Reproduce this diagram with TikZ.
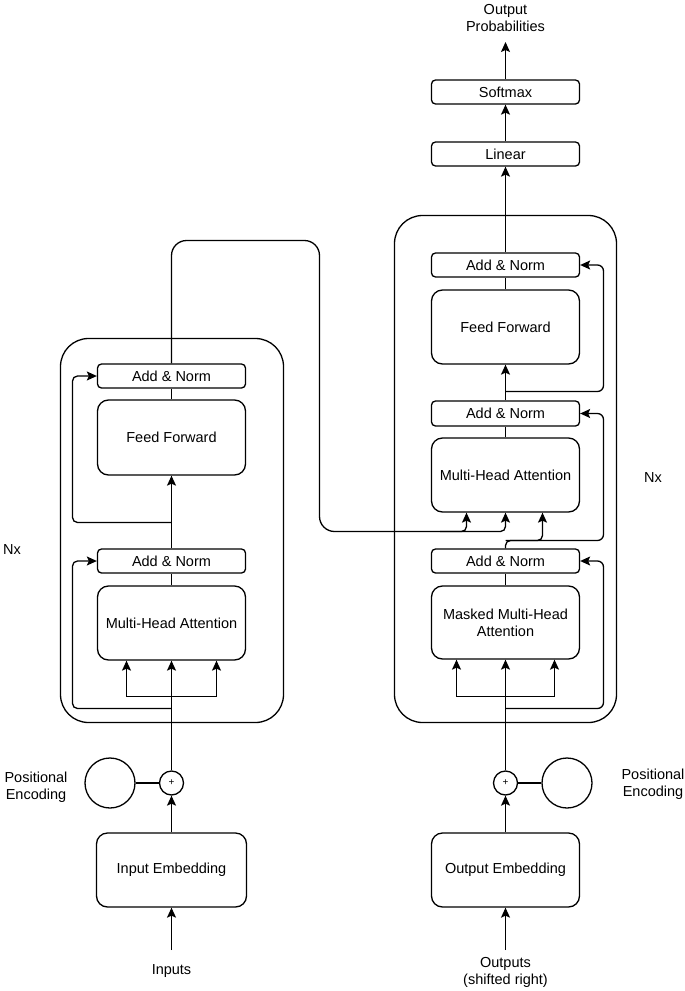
\documentclass[tikz,border=0pt]{standalone}
\usepackage{fontspec}
\setmainfont{Liberation Sans}
\usetikzlibrary{arrows.meta}
\begin{document}
\begin{tikzpicture}[x=1pt,y=-1pt,
  line width=1.3pt,
  >={Stealth[length=10pt,width=9pt,inset=2pt]},
  every node/.style={font=\fontsize{14.5}{17}\selectfont},
  thin box/.style={draw,rounded corners=4pt,minimum width=148pt,minimum height=24pt,inner sep=0pt},
  big box/.style={draw,rounded corners=11pt,minimum width=148pt,minimum height=74pt,inner sep=0pt,align=center},
  plusnode/.style={draw,circle,minimum size=24pt,inner sep=0pt,font=\fontsize{10}{12}\selectfont},
  penode/.style={draw,circle,minimum size=50pt,inner sep=0pt},
  lbl/.style={align=center,inner sep=0pt},
  stack/.style={draw,rounded corners=28pt}
]
\useasboundingbox (0,0) rectangle (685,991);

% ---------- Encoder ----------
\draw[stack] (60.5,338.5) rectangle (283.5,722.5);
\node[thin box] (ean1) at (171.5,376) {Add \& Norm};
\node[big box,minimum height=75pt] (eff) at (171.5,437.5) {Feed Forward};
\node[thin box] (ean2) at (171.5,561) {Add \& Norm};
\node[big box] (emha) at (171.5,623) {Multi-Head Attention};
\node[plusnode] (eplus) at (171.5,783) {+};
\node[penode] (epe) at (110,783) {};
\node[lbl] (epel) at (36,787) {Positional\\Encoding};
\node[big box,minimum width=150pt] (eemb) at (171.5,870) {Input Embedding};
\node[lbl] (einp) at (171.5,971) {Inputs};
\node[lbl] (enx) at (12,550) {Nx};

\coordinate (einpt) at (171.5,950);
\coordinate (ebr) at (171.5,696.5);
\coordinate (eres1) at (171.5,708.5);
\coordinate (eres2) at (171.5,522.5);

\draw[->] (einpt) -- (eemb.south);
\draw[->] (eemb.north) -- (eplus.south);
\draw (epe.east) -- (eplus.west);
\draw[->] (eplus.north) -- (emha.south);
\draw[->] (ebr) -| (emha.south -| 126.5,0);
\draw[->] (ebr) -| (emha.south -| 216.5,0);
\draw (emha.north) -- (ean2.south);
\draw[->,rounded corners=5pt] (eres1) -- (72.5,708.5) -- (72.5,561) -- (ean2.west);
\draw[->] (ean2.north) -- (eff.south);
\draw[->,rounded corners=5pt] (eres2) -- (72.5,522.5) -- (72.5,376) -- (ean1.west);
\draw (eff.north) -- (ean1.south);

% ---------- Decoder ----------
\draw[stack] (394.5,215.5) rectangle (616.5,722.5);
\node[thin box] (dan1) at (505.5,265) {Add \& Norm};
\node[big box] (dff) at (505.5,327) {Feed Forward};
\node[thin box,minimum height=25pt] (dan2) at (505.5,413.5) {Add \& Norm};
\node[big box] (dmha) at (505.5,475) {Multi-Head Attention};
\node[thin box] (dan3) at (505.5,561) {Add \& Norm};
\node[big box,minimum height=73pt] (dmmha) at (505.5,622.5) {Masked Multi-Head\\Attention};
\node[plusnode] (dplus) at (505.5,783) {+};
\node[penode] (dpe) at (567,783) {};
\node[lbl] (dpel) at (653,784) {Positional\\Encoding};
\node[big box] (demb) at (505.5,870) {Output Embedding};
\node[lbl] (doutl) at (505.5,972) {Outputs\\(shifted right)};
\node[lbl] (dnx) at (653,478) {Nx};
\node[thin box] (lin) at (505.5,154) {Linear};
\node[thin box] (soft) at (505.5,92) {Softmax};
\node[lbl] (prob) at (505.5,18) {Output\\Probabilities};

\coordinate (dinpt) at (505.5,950);
\coordinate (dbr) at (505.5,696.5);
\coordinate (dres1) at (505.5,708.5);
\coordinate (dres2) at (505.5,540.5);
\coordinate (dres3) at (505.5,391.5);
\coordinate (pend) at (505.5,42);

\draw[->] (dinpt) -- (demb.south);
\draw[->] (demb.north) -- (dplus.south);
\draw (dpe.west) -- (dplus.east);
\draw[->] (dplus.north) -- (dmmha.south);
\draw[->] (dbr) -| (dmmha.south -| 456.5,0);
\draw[->] (dbr) -| (dmmha.south -| 554.5,0);
\draw (dmmha.north) -- (dan3.south);
\draw[->,rounded corners=6pt] (dres1) -- (603.5,708.5) -- (603.5,561) -- (dan3.east);
\draw[->,rounded corners=5pt] (dan3.north) -- (dres2) -- (542.5,540.5) -- (dmha.south -| 542.5,0);
\draw[->,rounded corners=6pt] (dres2) -- (603.5,540.5) -- (603.5,413.5) -- (dan2.east);
\draw (dmha.north) -- (dan2.south);
\draw[->] (dan2.north) -- (dff.south);
\draw[->,rounded corners=6pt] (dres3) -- (603.5,391.5) -- (603.5,265) -- (dan1.east);
\draw (dff.north) -- (dan1.south);
\draw[->] (dan1.north) -- (lin.south);
\draw[->] (lin.north) -- (soft.south);
\draw[->] (soft.north) -- (pend);

% ---------- Encoder to decoder ----------
\draw[->] (ean1.north) [rounded corners=15pt] -- (171.5,240.5) -- (319.5,240.5) -- (319.5,531.5)
   [rounded corners=5pt] -- (505.5,531.5) -- (dmha.south -| 505.5,0);
\draw[->,rounded corners=5pt] (440,531.5) -- (466.5,531.5) -- (dmha.south -| 466.5,0);
\end{tikzpicture}
\end{document}
